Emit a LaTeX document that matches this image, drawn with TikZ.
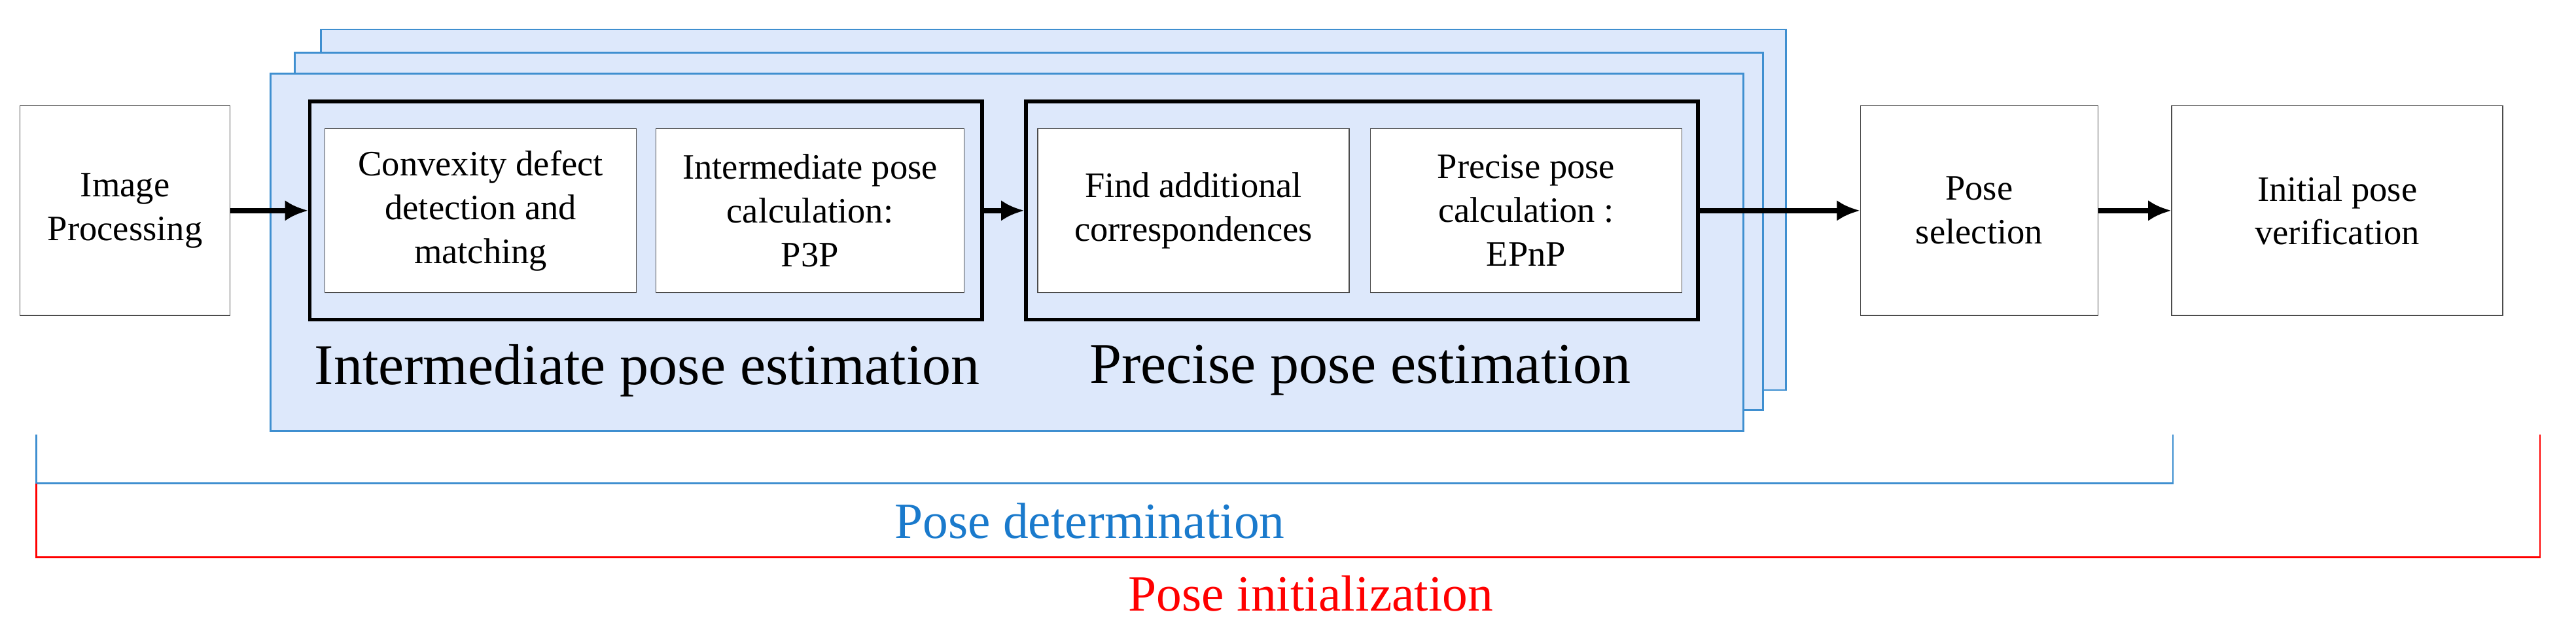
\documentclass[tikz,border=0pt]{standalone}
\usepackage{fontspec}
\setmainfont{Liberation Serif}
\usetikzlibrary{positioning,arrows.meta}
\definecolor{stackblue}{HTML}{3F8FD0}
\definecolor{stackfill}{HTML}{DDE8FB}
\definecolor{detblue}{HTML}{1A7ACC}
\begin{document}
\begin{tikzpicture}[x=0.025cm,y=-0.025cm,
    stage/.style={draw=black!70,fill=white,align=center,font=\rmfamily\fontsize{15.5}{19}\selectfont,
      minimum height=3.2cm,anchor=west,inner sep=2pt},
    group/.style={draw=black,line width=1.6pt},
    layer/.style={draw=stackblue,fill=stackfill,line width=0.8pt},
    flow/.style={-{Latex[length=10pt,width=9pt]},line width=2.2pt},
    big/.style={font=\rmfamily\fontsize{25}{30}\selectfont},
  ]
  \useasboundingbox (0,0) rectangle (1572,381);

  % stacked estimation layers
  \draw[layer] (196,18) rectangle (1090,238);
  \draw[layer] (180,32) rectangle (1076,250);
  \draw[layer] (165,45) rectangle (1064,263);

  \node[group,minimum width=10.25cm,minimum height=3.325cm,anchor=west] (inter) at (188,128.5) {};
  \node[group,minimum width=10.25cm,minimum height=3.325cm,anchor=west] (prec) at (625,128.5) {};

  \node[stage,minimum width=3.2cm] (img) at (12,128.5) {Image\\Processing};
  \node[stage,minimum width=4.75cm,minimum height=2.5cm] (defect) at (198,128.5) {Convexity defect\\detection and\\matching};
  \node[stage,minimum width=4.7cm,minimum height=2.5cm] (p3p) at (400,128.5) {Intermediate pose\\calculation:\\P3P};
  \node[stage,minimum width=4.75cm,minimum height=2.5cm] (corr) at (633,128.5) {Find additional\\correspondences};
  \node[stage,minimum width=4.75cm,minimum height=2.5cm] (epnp) at (836,128.5) {Precise pose\\calculation :\\EPnP};
  \node[stage,minimum width=3.625cm] (sel) at (1135,128.5) {Pose\\selection};
  \node[stage,minimum width=5.05cm] (verif) at (1325,128.5) {Initial pose\\verification};

  \node[big] (interlbl) at (395,226) {Intermediate pose estimation};
  \node[big] (preclbl) at (830,226) {Precise pose estimation};

  \draw[flow] (img.east) -- (inter.west);
  \draw[flow] (inter.east) -- (prec.west);
  \draw[flow] (prec.east) -- (sel.west);
  \draw[flow] (sel.east) -- (verif.west);

  % brackets
  \draw[stackblue,line width=0.8pt] (22,265) -- (22,295) -- (1326,295) -- (1326,265);
  \draw[red,line width=0.8pt] (22,295) -- (22,340) -- (1550,340) -- (1550,265);
  \node[text=detblue,font=\rmfamily\fontsize{22}{26}\selectfont] (det) at (665,318) {Pose determination};
  \node[text=red,font=\rmfamily\fontsize{22}{26}\selectfont] (init) at (800,362) {Pose initialization};
\end{tikzpicture}
\end{document}
